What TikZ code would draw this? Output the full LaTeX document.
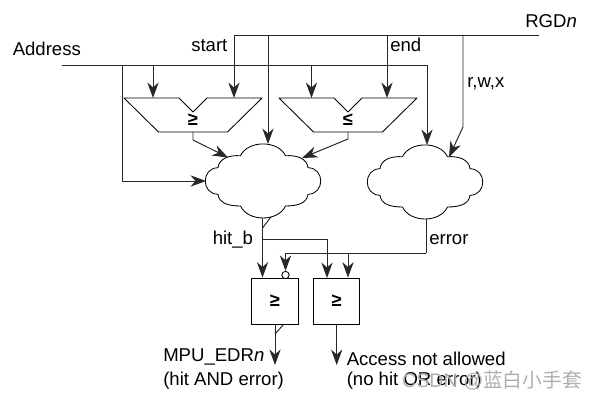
\documentclass[tikz,border=0pt]{standalone}
\usepackage{fontspec}
\setmainfont{Liberation Sans}
\newfontfamily\cjkfont{Noto Sans CJK SC}
\usetikzlibrary{arrows.meta, calc}
\definecolor{wiregray}{RGB}{40,40,40}
\definecolor{markgray}{RGB}{175,175,175}
\tikzset{
  wire/.style      = {wiregray, line width=0.7pt},
  sig/.style       = {wire, -{Stealth[length=11pt, width=8pt, inset=3.5pt]}},
  outline/.style   = {black, line width=0.6pt, line join=round},
  label/.style     = {anchor=base west, inner sep=0pt, font=\fontsize{13.2}{15}\selectfont},
  gate box/.style  = {draw, outline, minimum width=1.16cm, minimum height=1.15cm, inner sep=0pt, font=\fontsize{13}{15}\bfseries\selectfont},
  invert dot/.style= {draw, outline, circle, fill=white, inner sep=0pt, minimum size=5.2pt},
  pics/comparator/.style = {code={
    \draw[outline] (-69,0) -- (-14,0) -- (0,14) -- (14,0) -- (69,0)
      -- (34.5,34) -- (-34.5,34) -- cycle;
    \node[font=\fontsize{13}{15}\bfseries\selectfont, inner sep=0pt] (-sign) at (0,22) {#1};
    \coordinate (-top) at (0,0);
    \coordinate (-out) at (0,34);
  }},
  pics/blob/.style = {code={
    \draw[outline] (-22.5,-25.3) .. controls (-15,-41) and (15,-41) .. (22.5,-25.3)
      .. controls (35,-26) and (44,-22) .. (45,-13.3)
      .. controls (62,-13) and (62,13) .. (45,13.3)
      .. controls (44,22) and (35,25) .. (22.5,25)
      .. controls (15,41) and (-15,41) .. (-22.5,25)
      .. controls (-35,25) and (-44,22) .. (-45,13.3)
      .. controls (-62,13) and (-62,-13) .. (-45,-13.3)
      .. controls (-44,-22) and (-35,-26) .. (-22.5,-25.3) -- cycle;
    \coordinate (-top) at (0,-37);
    \coordinate (-bot) at (0,37);
    \coordinate (-west) at (-57,0);
    \coordinate (-nw) at (-35,-23.5);
    \coordinate (-ne) at (39,-23);
    \coordinate (-nne) at (24,-25);
  }},
}

\begin{document}
\begin{tikzpicture}[x=0.025cm, y=-0.025cm]
  \useasboundingbox (0,0) rectangle (598,400);

  % buses
  \coordinate (addr start) at (62,65);
  \coordinate (addr end) at (427,65);
  \coordinate (rgd start) at (234,35);
  \coordinate (rgd end) at (539,35);

  % comparators and clouds
  \pic (cmpstart) at (193,98) {comparator={≥}};
  \pic (cmpend) at (348,98) {comparator={≤}};
  \pic (hit) at (263,181) {blob};
  \pic (err) at (425,182) {blob};

  % output gates
  \node[gate box] (gatea) at (275,301) {≥};
  \node[gate box] (gateb) at (336.7,301) {≥};
  \node[invert dot] (inv) at (285.5,275) {};

  % labels
  \node[label] (laddr) at (12.5,56) {Address};
  \node[label] (lstart) at (191,52) {start};
  \node[label] (lend) at (390,52) {end};
  \node[label] (lrgd) at (525,28) {RGD\textit{n}};
  \node[label] (lperm) at (467,88) {r,w,x};
  \node[label] (lhit) at (212.5,244) {hit\_b};
  \node[label] (lerr) at (429,244) {error};
  \node[label] (ledr) at (163,361) {MPU\_EDR\textit{n}};
  \node[label] (ledrb) at (163,385) {(hit AND error)};
  \node[label] (lacc) at (346.5,365) {Access not allowed};
  \node[label] (laccb) at (346.5,385) {(no hit OR error)};

  % address bus and its taps
  \draw[wire] (addr start) -- (addr end);
  \coordinate (taploop) at (122,65);
  \draw[sig] (taploop) |- (hit-west);
  \foreach \name/\x in {cmpstart/153, cmpend/311.5}{
    \coordinate (tap) at (\x,65);
    \draw[sig] (tap) -- (tap |- \name-top);
  }
  \draw[sig] (addr end) -- (addr end |- err-top);

  % RGD bus and its taps
  \draw[wire] (rgd start) -- (rgd end);
  \draw[sig] (rgd start) -- (rgd start |- cmpstart-top);
  \coordinate (taphit) at (268,35);
  \draw[sig] (taphit) -- (taphit |- hit-top);
  \coordinate (tapend) at (387,35);
  \draw[sig] (tapend) -- (tapend |- cmpend-top);
  \coordinate (tapperm) at (463,35);
  \draw[sig] (tapperm) -- ++(0,92) -- (err-nne);

  % comparator outputs
  \draw[sig] (cmpstart-out) -- ++(0,8) -- (hit-nw);
  \draw[sig] (cmpend-out) -- ++(0,7) -- (hit-ne);

  % cloud outputs
  \coordinate (hit out) at (262.5,218);
  \draw[sig] (hit out) -- (hit out |- gatea.north);
  \draw[wire] ($(hit out)+(0,10)$) -- ++(8.5,-11);
  \coordinate (hit tee) at (262.5,239);
  \draw[sig] (hit tee) -| (327,278);
  \coordinate (err out) at (426,219);
  \coordinate (err tee) at (426,253);
  \draw[wire] (err out) -- (err tee);
  \draw[sig] (err tee) -| (inv.north);
  \coordinate (err tap) at (348,253);
  \draw[sig] (err tap) -- (err tap |- gateb.north);

  % gate outputs
  \coordinate (edr out) at (275,324);
  \draw[sig] (edr out) -- (275,365);
  \draw[wire] (275,334) -- (284,324);
  \draw[sig] (gateb.south) -- (336.7,365);

  % overlaid mark
  \node[anchor=base east, inner sep=0pt, text=markgray, font=\fontsize{14}{16}\selectfont] (mark)
    at (582,387) {CSDN @{\cjkfont 蓝白小手套}};
\end{tikzpicture}
\end{document}
